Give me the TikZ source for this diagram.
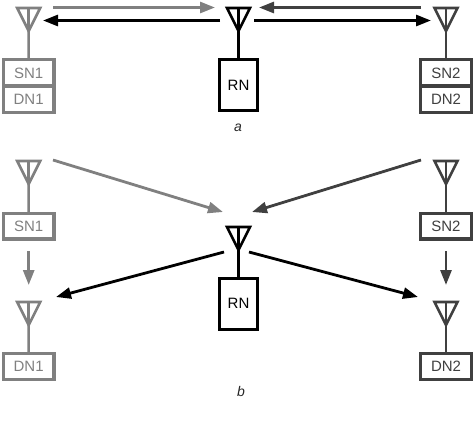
\documentclass[tikz,border=0pt]{standalone}
\usepackage{fontspec}
\setmainfont{Liberation Sans}
\usetikzlibrary{arrows.meta}
\definecolor{gA}{HTML}{808080}
\definecolor{gB}{HTML}{404040}
\tikzset{
  x=1pt,y=-1pt,
  blockbox/.style={draw=#1,line width=3.2pt,fill=white,text=#1,inner sep=0pt,outer sep=0pt,font=\fontsize{15}{15}\selectfont,anchor=north west},
  ant/.style={draw=#1,line width=2.6pt,miter limit=10},
  link/.style={draw=#1,line width=2.8pt,-{Triangle[length=15pt,width=11pt]}},
  captiontext/.style={font=\itshape\fontsize{14}{14}\selectfont,text=black!85}
}
\newcommand{\antenna}[4]{% name, x, top y, colour
  \coordinate (#1tl) at (#2-11.5,#3+1);
  \coordinate (#1tr) at (#2+11.5,#3+1);
  \coordinate (#1tm) at (#2,#3+1);
  \coordinate (#1ap) at (#2,#3+24);
  \draw[ant=#4,line join=miter] (#1tl) -- (#1tr) -- (#1ap) -- cycle;
  \draw[ant=#4] (#1tm) -- (#1ap);
}
\newcommand{\blockat}[7]{% name, x0, y0, x1, y1, colour, text
  \node[blockbox=#6,minimum width=#4pt-#2pt,minimum height=#5pt-#3pt] (#1) at (#2,#3) {#7};
}
\begin{document}
\begin{tikzpicture}
\useasboundingbox (0,0) rectangle (474,424);
% panel a
\antenna{aL}{28.7}{7}{gA}
\antenna{aC}{238.5}{7}{black}
\antenna{aR}{446}{7}{gB}
\blockat{aSNa}{3.3}{59.7}{54}{86}{gA}{SN1}
\blockat{aDNa}{3.3}{86}{54}{112.5}{gA}{DN1}
\blockat{aRN}{219.5}{59.7}{257.5}{110.5}{black}{RN}
\blockat{aSNb}{420.3}{59.7}{471.7}{86}{gB}{SN2}
\blockat{aDNb}{420.3}{86}{471.7}{112.5}{gB}{DN2}
\draw[ant=gA] (aLap) -- (aSNa.north);
\draw[ant=black] (aCap) -- (aRN.north);
\draw[ant=gB] (aRap) -- (aSNb.north);
\coordinate (a1) at (53,7.5); \coordinate (a2) at (215,7.5);
\coordinate (a3) at (220,20.5); \coordinate (a4) at (43,20.5);
\coordinate (a5) at (421,7.5); \coordinate (a6) at (259,7.5);
\coordinate (a7) at (254,20.5); \coordinate (a8) at (431,20.5);
\draw[link=gA] (a1) -- (a2);
\draw[link=black] (a3) -- (a4);
\draw[link=gB] (a5) -- (a6);
\draw[link=black] (a7) -- (a8);
\node[captiontext] (capa) at (238,128) {a};
% panel b
\antenna{bL}{28.7}{160}{gA}
\antenna{bD}{28.7}{301}{gA}
\antenna{bC}{238.5}{226}{black}
\antenna{bR}{446}{160}{gB}
\antenna{bE}{446}{301}{gB}
\blockat{bSNa}{3.3}{213.3}{54}{239}{gA}{SN1}
\blockat{bDNa}{3.3}{353.3}{54}{379.3}{gA}{DN1}
\blockat{bRN}{219.5}{278.3}{257.5}{329.3}{black}{RN}
\blockat{bSNb}{420.3}{213.3}{471.7}{239}{gB}{SN2}
\blockat{bDNb}{420.3}{353.3}{471.7}{379.3}{gB}{DN2}
\draw[ant=gA] (bLap) -- (bSNa.north);
\draw[ant=gA] (bDap) -- (bDNa.north);
\draw[ant=black] (bCap) -- (bRN.north);
\draw[ant=gB] (bRap) -- (bSNb.north);
\draw[ant=gB] (bEap) -- (bDNb.north);
\coordinate (b1) at (53,160); \coordinate (b2) at (223,212);
\coordinate (b3) at (224,252); \coordinate (b4) at (56,297);
\coordinate (b5) at (421,160); \coordinate (b6) at (252,212);
\coordinate (b7) at (249,252); \coordinate (b8) at (418,297);
\coordinate (b9) at (28.7,251); \coordinate (b10) at (28.7,285);
\coordinate (b11) at (446,251); \coordinate (b12) at (446,285);
\draw[link=gA] (b1) -- (b2);
\draw[link=black] (b3) -- (b4);
\draw[link=gB] (b5) -- (b6);
\draw[link=black] (b7) -- (b8);
\draw[link=gA] (b9) -- (b10);
\draw[link=gB] (b11) -- (b12);
\node[captiontext] (capb) at (241,391) {b};
\end{tikzpicture}
\end{document}
